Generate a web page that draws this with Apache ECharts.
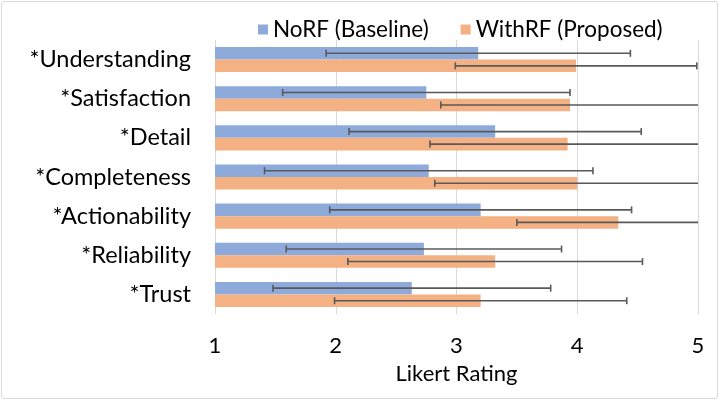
<!DOCTYPE html>
<html><head><meta charset="utf-8">
<script src="https://cdn.jsdelivr.net/npm/echarts@6/dist/echarts.min.js"></script>
<style>html,body{margin:0;padding:0;background:#fff}
#c{position:absolute;left:0;top:0;width:720px;height:401px}
#frame{position:absolute;left:1px;top:1px;width:717px;height:398px;border:1px solid #d9d9d9;border-radius:3px;box-sizing:border-box;pointer-events:none}
</style></head><body><div id="c"></div><div id="frame"></div>
<script>
const categories = ['*Understanding','*Satisfaction','*Detail','*Completeness','*Actionability','*Reliability','*Trust'];
const noRF = [3.18, 2.75, 3.32, 2.77, 3.20, 2.73, 2.63];
const noRFErr = [1.26, 1.19, 1.21, 1.36, 1.25, 1.14, 1.15];
const withRF = [3.99, 3.94, 3.92, 4.00, 4.34, 3.32, 3.20];
const withRFErr = [1.00, 1.07, 1.14, 1.18, 0.84, 1.22, 1.21];
const xTicks = [1, 2, 3, 4, 5];
const seriesNames = ['NoRF (Baseline)', 'WithRF (Proposed)'];
const colors = ['#8eaadb', '#f4b183'];

const FONT = 'Lato';
const GAP = 0.36;
const XMIN = xTicks[0], XMAX = xTicks[xTicks.length - 1];

function errRender(sign) {
  return function (params, api) {
    const v = api.value(0), cat = api.value(1), e = api.value(2);
    const lo = Math.max(XMIN, v - e);
    const hiRaw = v + e;
    const hi = Math.min(XMAX, hiRaw);
    const band = api.size([0, 1])[1];
    const bw = band * (1 - GAP) / 2;
    const pLo = api.coord([lo, cat]);
    const pHi = api.coord([hi, cat]);
    const y = pLo[1] + sign * bw / 2;
    const st = { stroke: '#595959', lineWidth: 1.6 };
    const cap = 3.5;
    const children = [
      { type: 'line', shape: { x1: pLo[0], y1: y, x2: pHi[0], y2: y }, style: st },
      { type: 'line', shape: { x1: pLo[0], y1: y - cap, x2: pLo[0], y2: y + cap }, style: st }
    ];
    if (hiRaw <= XMAX + 0.001) {
      children.push({ type: 'line', shape: { x1: pHi[0], y1: y - cap, x2: pHi[0], y2: y + cap }, style: st });
    }
    return { type: 'group', children: children };
  };
}

const chart = echarts.init(document.getElementById('c'));
chart.setOption({
  animation: false,
  textStyle: { fontFamily: FONT },
  legend: {
    data: seriesNames,
    top: 13,
    left: 253,
    icon: 'rect',
    itemWidth: 10,
    itemHeight: 10,
    itemGap: 32,
    textStyle: { fontSize: 22.5, color: '#000', fontFamily: FONT }
  },
  grid: { left: 215, right: 22, top: 40, bottom: 87, containLabel: false },
  xAxis: {
    type: 'value',
    min: XMIN, max: XMAX, interval: 1,
    name: 'Likert Rating',
    nameLocation: 'middle',
    nameGap: 49,
    nameTextStyle: { fontSize: 22, color: '#000', fontFamily: FONT },
    axisLabel: { fontSize: 22, color: '#000', margin: 21, fontFamily: FONT },
    axisLine: { show: false },
    axisTick: { show: false },
    splitLine: { show: true, lineStyle: { color: '#d9d9d9', width: 1 } }
  },
  yAxis: {
    type: 'category',
    data: categories,
    inverse: true,
    axisLine: { show: false },
    axisTick: { show: false },
    axisLabel: { fontSize: 23.5, color: '#000', margin: 24, fontFamily: FONT }
  },
  series: [
    { name: seriesNames[0], type: 'bar', data: noRF, itemStyle: { color: colors[0] }, barGap: '0%', barCategoryGap: (GAP * 100) + '%' },
    { name: seriesNames[1], type: 'bar', data: withRF, itemStyle: { color: colors[1] }, barGap: '0%', barCategoryGap: (GAP * 100) + '%' },
    { type: 'custom', renderItem: errRender(-1), encode: { x: 0, y: 1 }, data: noRF.map((v, i) => [v, i, noRFErr[i]]), z: 10, silent: true },
    { type: 'custom', renderItem: errRender(1), encode: { x: 0, y: 1 }, data: withRF.map((v, i) => [v, i, withRFErr[i]]), z: 10, silent: true }
  ]
});
</script></body></html>
